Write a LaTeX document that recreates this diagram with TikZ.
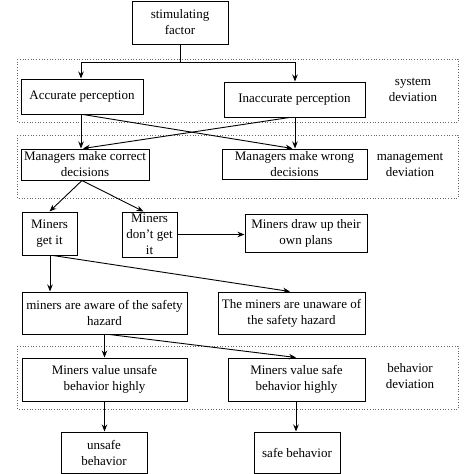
\documentclass[tikz,border=0pt]{standalone}
\usepackage{fontspec}
\setmainfont{Liberation Serif}
\usetikzlibrary{arrows.meta,calc}
\begin{document}
\begin{tikzpicture}[x=1pt,y=-1pt,
  box/.style={draw,line width=1pt,inner sep=0pt,align=center,font=\fontsize{13}{16}\selectfont},
  grp/.style={draw,dotted,line width=0.7pt,gray!80!black},
  lab/.style={align=center,font=\fontsize{13}{16}\selectfont},
  arr/.style={-{Stealth[length=7pt,width=5.5pt]},line width=0.9pt}]
\useasboundingbox (0,0) rectangle (474,474);
\draw[grp] (17,59) rectangle (458,122);
\draw[grp] (17,135) rectangle (458,198);
\draw[grp] (17,346) rectangle (458,409);
\node[box,minimum width=96pt,minimum height=43pt] (stim) at (180,22.5) {stimulating\\factor};
\node[box,minimum width=122pt,minimum height=35pt] (acc) at (82,96.5) {Accurate perception};
\node[box,minimum width=141pt,minimum height=35pt] (inacc) at (294.5,99.5) {Inaccurate perception};
\node[box,minimum width=128pt,minimum height=31pt] (corr) at (85,164.5) {Managers make correct\\decisions};
\node[box,minimum width=145pt,minimum height=30pt] (wrong) at (294.5,164) {Managers make wrong\\decisions};
\node[box,minimum width=55pt,minimum height=43pt] (get) at (49.5,233.5) {Miners\\get it};
\node[box,minimum width=55pt,minimum height=45pt] (dont) at (149.5,234.5) {Miners\\don't get\\it};
\node[box,minimum width=122pt,minimum height=38pt] (plans) at (306,233) {Miners draw up their\\own plans};
\node[box,minimum width=165pt,minimum height=42pt] (aware) at (104.5,313) {miners are aware of the safety\\hazard};
\node[box,minimum width=147pt,minimum height=42pt] (unaware) at (291.5,313) {The miners are unaware of\\the safety hazard};
\node[box,minimum width=165pt,minimum height=43pt] (vunsafe) at (104.5,379.5) {Miners value unsafe\\behavior highly};
\node[box,minimum width=137pt,minimum height=43pt] (vsafe) at (296.5,379.5) {Miners value safe\\behavior highly};
\node[box,minimum width=86pt,minimum height=41pt] (unsafe) at (104,452.5) {unsafe\\behavior};
\node[box,minimum width=86pt,minimum height=41pt] (safe) at (297,452.5) {safe behavior};
\node[lab] (sysd) at (413,90) {system\\deviation};
\node[lab] (mgmd) at (410,165) {management\\deviation};
\node[lab] (behd) at (410,376) {behavior\\deviation};
\coordinate (split) at (180,62);
\draw[line width=0.9pt] (stim.south) -- (split);
\draw[arr] (split) -| ([xshift=-1pt]acc.north);
\draw[arr] (split) -| ([xshift=0.5pt]inacc.north);
\draw[arr] ([xshift=-1pt]acc.south) -- ([xshift=-1pt]acc.south |- corr.north);
\draw[arr] ([xshift=0.5pt]inacc.south) -- ([xshift=0.5pt]inacc.south |- wrong.north);
\draw[arr] ([xshift=1pt]acc.south) -- ([xshift=-2pt]wrong.north);
\draw[arr] ([xshift=-5pt]inacc.south) -- ([xshift=-2pt]corr.north);
\draw[arr] ([xshift=-3pt]corr.south) -- (get.north);
\draw[arr] ([xshift=-3pt]corr.south) -- ([xshift=-6pt]dont.north);
\draw[arr] (dont.east) -- (dont.east -| plans.west);
\draw[arr] ([xshift=0.5pt]get.south) -- ([xshift=0.5pt]get.south |- aware.north);
\draw[arr] ([xshift=3.5pt]get.south) -- ([xshift=-1.5pt]unaware.north);
\draw[arr] (aware.south) -- (aware.south |- vunsafe.north);
\draw[arr] ([xshift=5pt]aware.south) -- ([xshift=-0.5pt]vsafe.north);
\draw[arr] (vunsafe.south) -- (vunsafe.south |- unsafe.north);
\draw[arr] ([xshift=-0.5pt]vsafe.south) -- ([xshift=-0.5pt]vsafe.south |- safe.north);
\end{tikzpicture}
\end{document}
